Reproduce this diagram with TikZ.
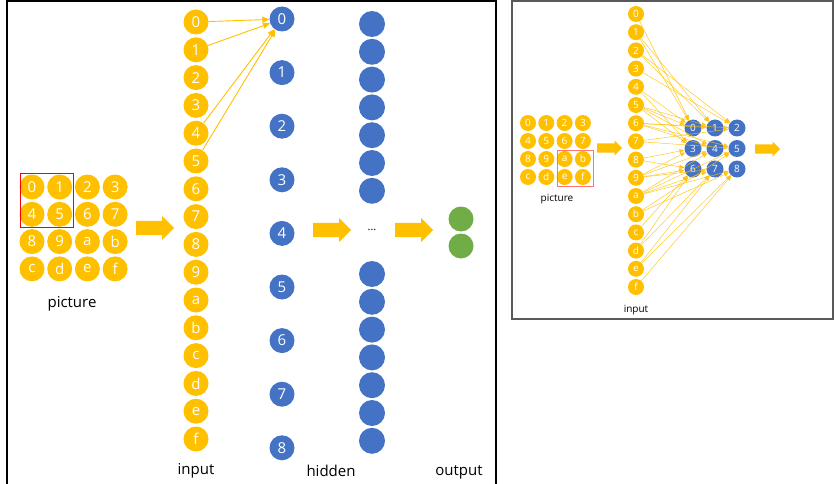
\documentclass[tikz,border=0pt]{standalone}
\usepackage{fontspec}
\setmainfont{Open Sans}
\usetikzlibrary{arrows.meta,shapes.arrows}
\definecolor{myyellow}{HTML}{FFC000}
\definecolor{myblue}{HTML}{4472C4}
\definecolor{mygreen}{HTML}{70AD47}
\definecolor{myred}{HTML}{FF0000}
\definecolor{framegray}{HTML}{595959}
\tikzset{
  neuron/.style={circle, inner sep=0pt, minimum size=25pt, text=white, font=\fontsize{15}{15}\selectfont},
  yneuron/.style={neuron, fill=myyellow},
  bneuron/.style={neuron, fill=myblue},
  gneuron/.style={neuron, fill=mygreen},
  sneuron/.style={circle, inner sep=0pt, minimum size=16pt, text=white, font=\fontsize{10}{10}\selectfont},
  syneuron/.style={sneuron, fill=myyellow},
  sbneuron/.style={sneuron, fill=myblue, minimum size=17pt},
  bigarr/.style={single arrow, fill=myyellow, inner sep=7pt, single arrow head extend=5pt, minimum height=38pt, anchor=tail},
  smallarr/.style={single arrow, fill=myyellow, inner sep=4.5pt, single arrow head extend=3pt, minimum height=25pt, anchor=tail},
  link/.style={myyellow, line width=0.9pt, -{Triangle[length=7pt,width=6pt]}},
  slink/.style={myyellow, line width=0.5pt, opacity=0.85, -{Triangle[length=5pt,width=4pt]}},
  lab/.style={font=\fontsize{15}{15}\selectfont},
  slab/.style={font=\fontsize{10}{10}\selectfont},
}
\begin{document}
\begin{tikzpicture}[x=1pt,y=-1pt]
  \useasboundingbox (0,0) rectangle (835,484);
  % left panel
  \draw[line width=1.4pt] (7,484) -- (7,1) -- (496,1) -- (496,484);
  \foreach \l [count=\i from 0] in {0,1,2,3,4,5,6,7,8,9,a,b,c,d,e,f} {
    \pgfmathtruncatemacro\row{int(\i/4)} \pgfmathtruncatemacro\col{mod(\i,4)}
    \node[yneuron] (p-\i) at (32+27.7*\col, 187+27.3*\row) {\l};
    \node[yneuron] (in-\i) at (196, 22+27.8*\i) {\l};
  }
  \draw[myred, line width=1pt] (20,173) rectangle (73,227);
  \node[lab] (pic) at (72,304) {picture};
  \node[bigarr] (a1) at (136,228) {};
  \foreach \i in {0,...,8} \node[bneuron] (h-\i) at (282, 19+53.6*\i) {\i};
  \foreach \i in {0,...,6} {
    \node[bneuron, minimum size=26pt] (ht-\i) at (372, 24+27.8*\i) {};
    \node[bneuron, minimum size=26pt] (hb-\i) at (372, 274+27.8*\i) {};
  }
  \node[font=\fontsize{11}{11}\selectfont] (dots) at (372,230) {...};
  \node[bigarr] (a2) at (313,230) {};
  \node[bigarr] (a3) at (395,230) {};
  \node[gneuron] (o-1) at (461,219) {};
  \node[gneuron] (o-2) at (461,246) {};
  \foreach \k in {0,1,4,5} \draw[link] (in-\k) -- (h-0);
  \node[lab] (linput) at (196,471) {input};
  \node[lab] (lhidden) at (331,471) {hidden};
  \node[lab] (loutput) at (459,472) {output};
  % right panel
  \draw[framegray, line width=1.2pt] (512,1) rectangle (833,319);
  \foreach \l [count=\i from 0] in {0,1,2,3,4,5,6,7,8,9,a,b,c,d,e,f} {
    \pgfmathtruncatemacro\row{int(\i/4)} \pgfmathtruncatemacro\col{mod(\i,4)}
    \node[syneuron] (rp-\i) at (528+18.3*\col, 123+18*\row) {\l};
    \node[syneuron] (ri-\i) at (636, 14+18.2*\i) {\l};
  }
  \draw[myred!55, line width=0.8pt] (557,150) rectangle (593,186);
  \node[slab] (rpic) at (557,199) {picture};
  \node[smallarr] (ra1) at (597,148) {};
  \foreach \r in {0,1,2} \foreach \c in {0,1,2} {
    \pgfmathtruncatemacro\j{3*\r+\c}
    \node[sbneuron] (rc-\j) at (693+22*\c, 128+20.5*\r) {\j};
  }
  \foreach \r in {0,1,2} \foreach \c in {0,1,2} \foreach \d in {0,1,4,5} {
    \pgfmathtruncatemacro\j{3*\r+\c} \pgfmathtruncatemacro\k{4*\r+\c+\d}
    \draw[slink] (ri-\k) -- (rc-\j);
  }
  \node[smallarr] (ra2) at (755,149) {};
  \node[slab] (rinput) at (636,310) {input};
\end{tikzpicture}
\end{document}
